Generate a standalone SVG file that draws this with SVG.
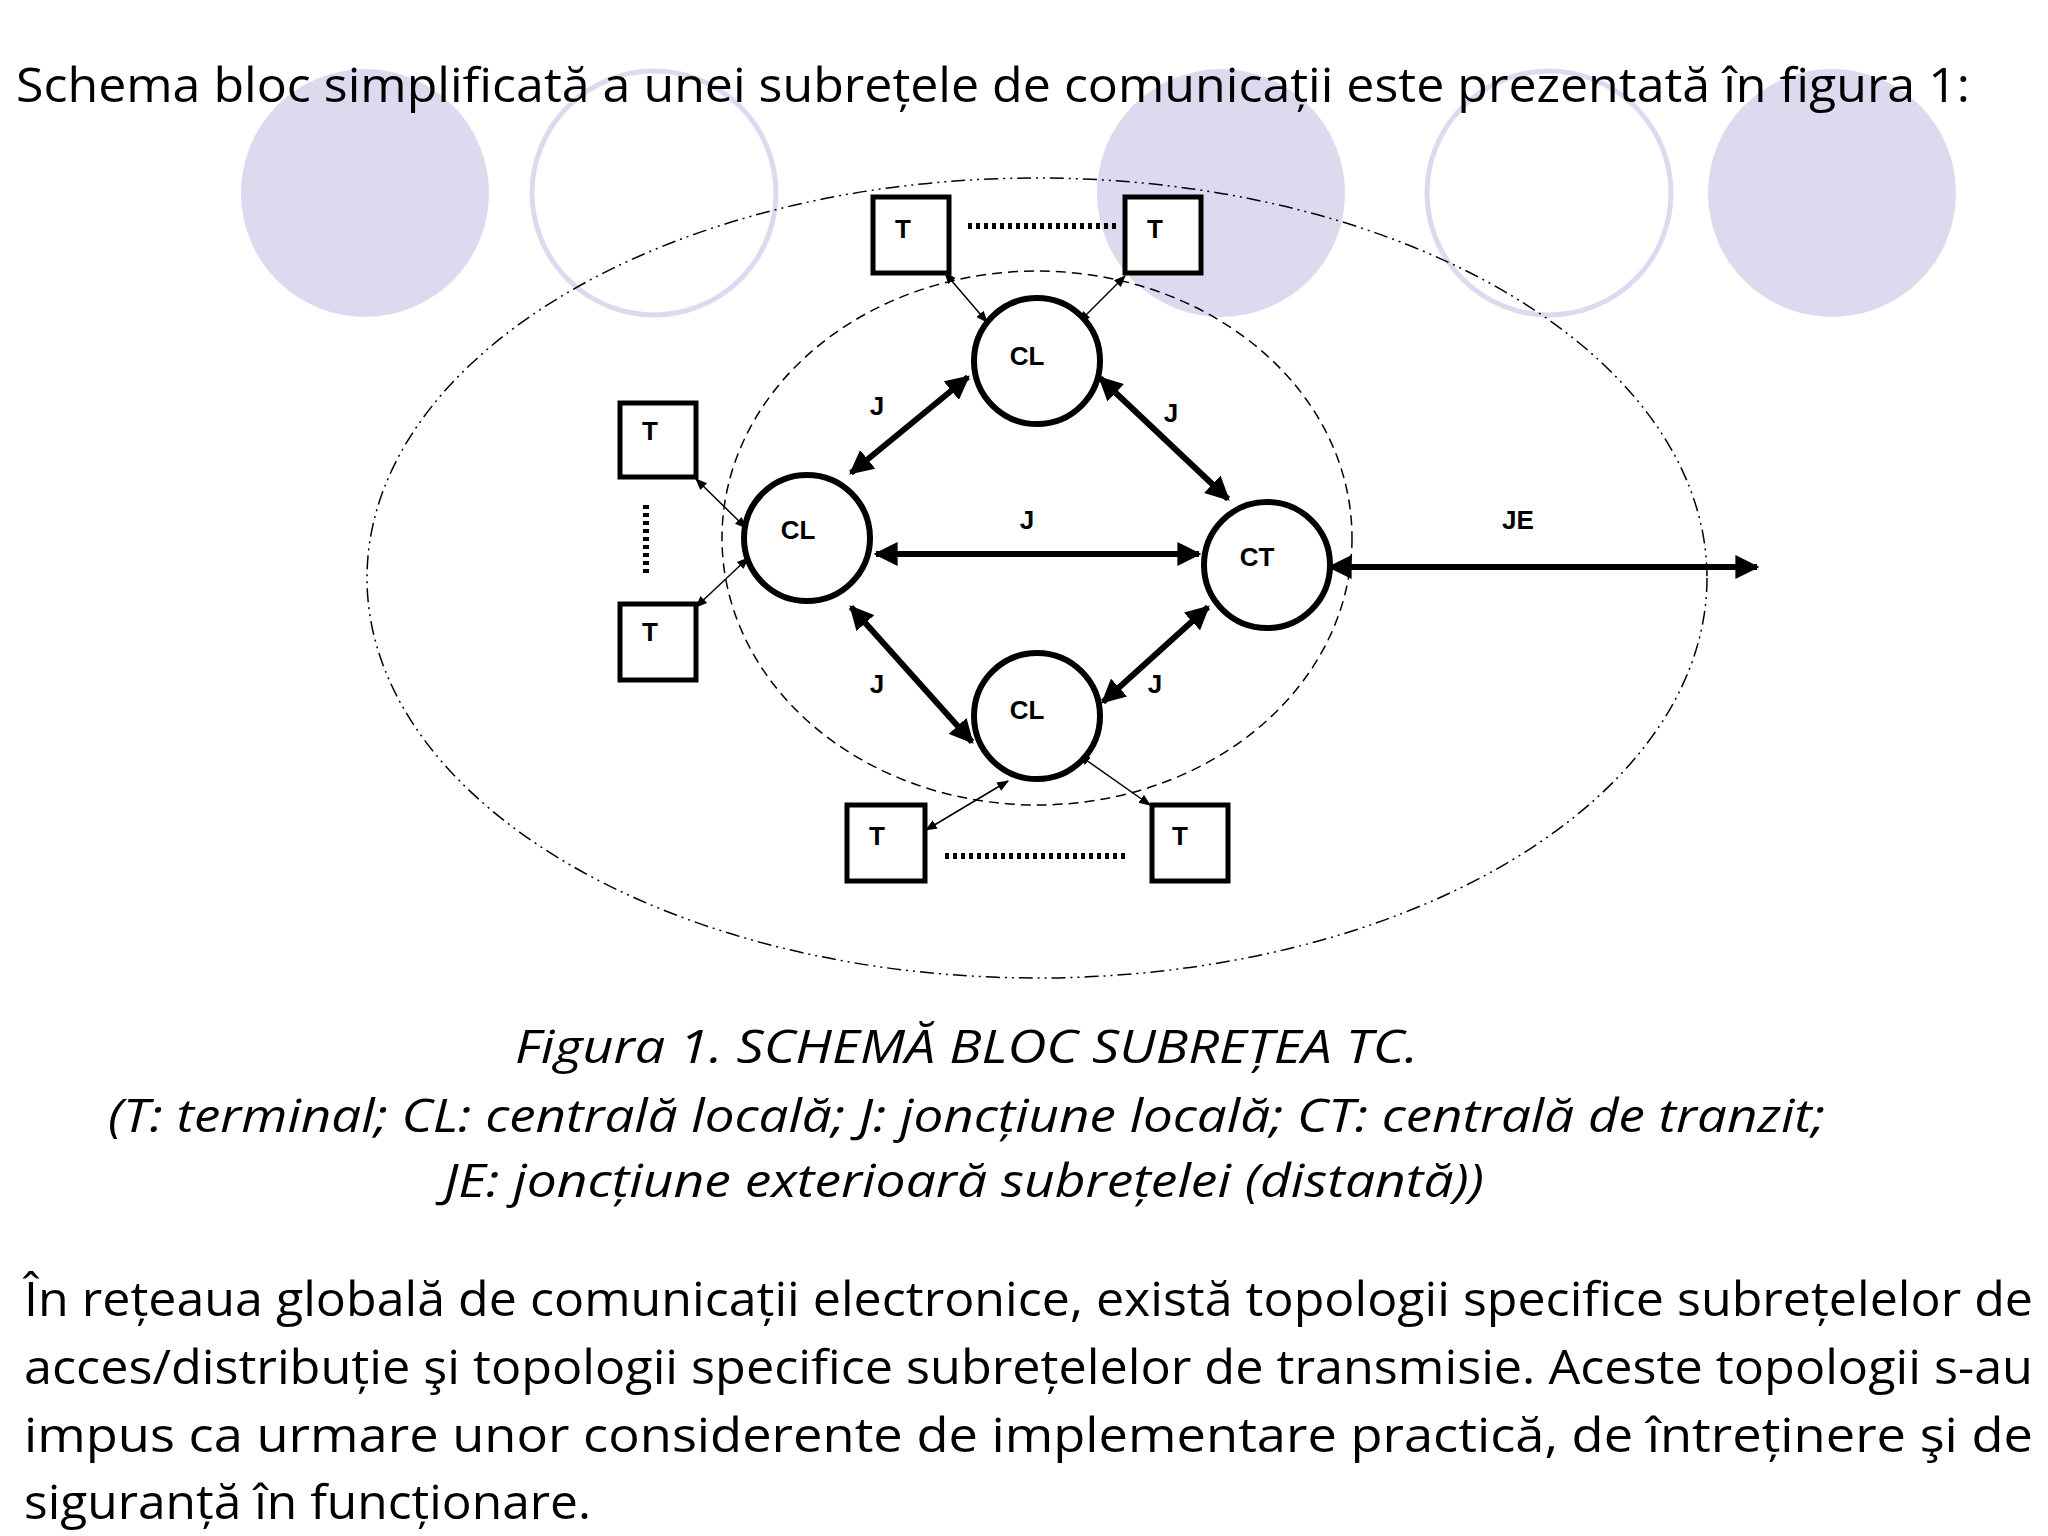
<svg xmlns="http://www.w3.org/2000/svg" width="2048" height="1536" viewBox="0 0 2048 1536">
<defs>
<marker id="ah" viewBox="0 0 10 10" refX="9" refY="5" markerWidth="4" markerHeight="4" orient="auto-start-reverse"><path d="M0,0 L10,5 L0,10 z" fill="#000"/></marker>
<marker id="as" viewBox="0 0 10 10" refX="9" refY="5" markerWidth="8" markerHeight="8" orient="auto-start-reverse"><path d="M0,1 L10,5 L0,9 z" fill="#000"/></marker>
<style>
.txt{font-family:"Open Sans","Liberation Sans",sans-serif;font-size:47px;fill:#000}
.cap{font-family:"Open Sans","Liberation Sans",sans-serif;font-style:italic;font-size:46px;fill:#000}
.lbl{font-family:"Liberation Sans",Arial,sans-serif;font-weight:bold;font-size:26px;fill:#000;text-anchor:middle}
.node{fill:#fff;stroke:#000;stroke-width:6}
.box{fill:#fff;stroke:#000;stroke-width:5}
.thick{stroke:#000;stroke-width:6;fill:none;marker-start:url(#ah);marker-end:url(#ah)}
.thin{stroke:#000;stroke-width:1.5;fill:none;marker-start:url(#as);marker-end:url(#as)}
.dots{stroke:#000;stroke-width:6;stroke-dasharray:4 4;fill:none}
</style>
</defs>
<g id="decor">
<circle cx="365" cy="193" r="124" fill="#dcdaee"/>
<circle cx="654" cy="193" r="122" fill="#fff" stroke="#dcdaee" stroke-width="5"/>
<circle cx="1221" cy="193" r="124" fill="#dcdaee"/>
<circle cx="1549" cy="193" r="122" fill="#fff" stroke="#dcdaee" stroke-width="5"/>
<circle cx="1832" cy="193" r="124" fill="#dcdaee"/>
</g>
<text class="txt" x="16" y="102" textLength="1954" lengthAdjust="spacingAndGlyphs">Schema bloc simplificată a unei subrețele de comunicații este prezentată în figura 1:</text>
<g id="regions" fill="none" stroke="#000" stroke-width="1.5">
<ellipse cx="1037" cy="578" rx="670" ry="400" stroke-dasharray="14 5 2 5 2 5"/>
<ellipse cx="1037" cy="538" rx="315" ry="267" stroke-dasharray="10 6"/>
</g>
<g id="connectors">
<line class="thick" x1="968" y1="377" x2="851" y2="473"/>
<line class="thick" x1="1100" y1="378" x2="1228" y2="499"/>
<line class="thick" x1="876" y1="554" x2="1199" y2="554"/>
<line class="thick" x1="851" y1="607" x2="972" y2="742"/>
<line class="thick" x1="1208" y1="607" x2="1103" y2="702"/>
<line class="thick" x1="1330" y1="567" x2="1757" y2="567"/>
<line class="thin" x1="945" y1="273" x2="987" y2="322"/>
<line class="thin" x1="1125" y1="276" x2="1079" y2="322"/>
<line class="thin" x1="696" y1="479" x2="746" y2="528"/>
<line class="thin" x1="696" y1="607" x2="748" y2="558"/>
<line class="thin" x1="926" y1="830" x2="1008" y2="781"/>
<line class="thin" x1="1079" y1="755" x2="1150" y2="805"/>
<line class="dots" x1="968" y1="226" x2="1116" y2="226"/>
<line class="dots" x1="646" y1="505" x2="646" y2="574"/>
<line class="dots" x1="945" y1="856" x2="1127" y2="856"/>
</g>
<g class="lbl">
<text x="877" y="415">J</text><text x="1171" y="422">J</text><text x="1027" y="529">J</text>
<text x="877" y="693">J</text><text x="1155" y="693">J</text><text x="1518" y="529">JE</text>
</g>
<g id="cl_top"><circle class="node" cx="1037" cy="361" r="63"/><text class="lbl" x="1027" y="365">CL</text></g>
<g id="cl_left"><circle class="node" cx="807" cy="538" r="63"/><text class="lbl" x="798" y="539">CL</text></g>
<g id="ct"><circle class="node" cx="1267" cy="565" r="63"/><text class="lbl" x="1257" y="566">CT</text></g>
<g id="cl_bottom"><circle class="node" cx="1037" cy="716" r="63"/><text class="lbl" x="1027" y="719">CL</text></g>
<g id="t1"><rect class="box" x="873" y="197" width="76" height="76"/><text class="lbl" x="903" y="238">T</text></g>
<g id="t2"><rect class="box" x="1125" y="197" width="76" height="76"/><text class="lbl" x="1155" y="238">T</text></g>
<g id="t3"><rect class="box" x="620" y="403" width="76" height="74"/><text class="lbl" x="650" y="440">T</text></g>
<g id="t4"><rect class="box" x="620" y="604" width="76" height="76"/><text class="lbl" x="650" y="641">T</text></g>
<g id="t5"><rect class="box" x="847" y="805" width="78" height="76"/><text class="lbl" x="877" y="845">T</text></g>
<g id="t6"><rect class="box" x="1152" y="805" width="76" height="76"/><text class="lbl" x="1180" y="845">T</text></g>
<text class="cap" x="515" y="1063" textLength="903" lengthAdjust="spacingAndGlyphs">Figura 1.  SCHEMĂ BLOC SUBREȚEA TC.</text>
<text class="cap" x="108" y="1132" textLength="1717" lengthAdjust="spacingAndGlyphs">(T: terminal; CL: centrală locală; J: joncțiune locală; CT: centrală de tranzit;</text>
<text class="cap" x="444" y="1197" textLength="1040" lengthAdjust="spacingAndGlyphs">JE: joncțiune exterioară subrețelei (distantă))</text>
<text class="txt" x="24" y="1316" textLength="2009" lengthAdjust="spacingAndGlyphs">În rețeaua globală de comunicații electronice, există topologii specifice subrețelelor de</text>
<text class="txt" x="24" y="1384" textLength="2009" lengthAdjust="spacingAndGlyphs">acces/distribuție şi topologii specifice subrețelelor de transmisie. Aceste topologii s-au</text>
<text class="txt" x="24" y="1452" textLength="2009" lengthAdjust="spacingAndGlyphs">impus ca urmare unor considerente de implementare practică, de întreținere şi de</text>
<text class="txt" x="24" y="1519" textLength="567" lengthAdjust="spacingAndGlyphs">siguranță în funcționare.</text>
</svg>
